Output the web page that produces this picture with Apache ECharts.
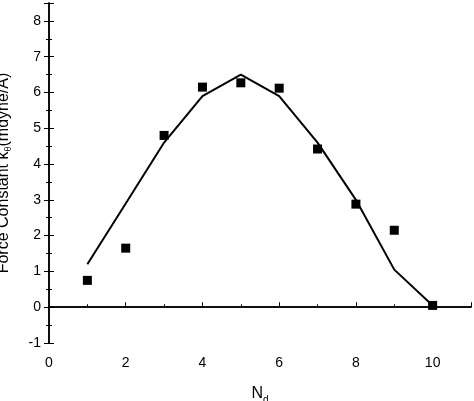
<!DOCTYPE html><html><head><script src="https://cdn.jsdelivr.net/npm/echarts@6/dist/echarts.min.js"></script></head><body style="margin:0"><div id="c" style="width:474px;height:401px"></div><script>
var nd=[1,2,3,4,5,6,7,8,9,10];
var measured=[0.75,1.65,4.8,6.15,6.27,6.12,4.42,2.88,2.15,0.05];
var fitted=[1.2,2.9,4.6,5.9,6.5,5.9,4.6,3.0,1.05,0.05];
var ch=echarts.init(document.getElementById('c'));
var ax={lineStyle:{color:'#000',width:1.5}};
var tk={inside:true,length:5,lineStyle:{color:'#000'}};
var mt={show:true,length:3,lineStyle:{color:'#000'}};
var ff='Liberation Sans';
ch.setOption({animation:false,grid:{left:49,right:3,top:3,bottom:58,containLabel:false,outerBoundsMode:'none'},
xAxis:[{type:'value',min:0,max:11,interval:2,name:'{a|N}{s|d}',nameLocation:'middle',nameGap:34,nameTextStyle:{rich:{a:{fontSize:16,fontFamily:ff,color:'#000'},s:{fontSize:10,fontFamily:ff,color:'#000',verticalAlign:'bottom',padding:[12,0,0,0]}}},
axisLine:ax,axisTick:tk,minorTick:Object.assign({splitNumber:2},mt),splitLine:{show:false},
axisLabel:{color:'#000',fontSize:14,fontFamily:ff,formatter:function(v){return v>10?'':v;}}},
{type:'value',position:'top',min:0,max:11,axisLine:ax,axisTick:{show:false},axisLabel:{show:false},splitLine:{show:false}}],
yAxis:[{type:'value',min:-1,max:8.5,interval:1,name:'{a|Force Constant k}{s|\u03B8}{a|(mdyne/A)}',nameLocation:'middle',nameGap:32,nameTextStyle:{rich:{a:{fontSize:16,fontFamily:ff,color:'#000'},s:{fontSize:9,fontFamily:ff,color:'#000',padding:[10,0,0,0]}}},
axisLine:ax,axisTick:tk,minorTick:Object.assign({splitNumber:2},mt),splitLine:{show:false},
axisLabel:{color:'#000',fontSize:14,fontFamily:ff,formatter:function(v){return v>8?'':v;}}},
{type:'value',position:'right',min:-1,max:8.5,interval:1,axisLine:Object.assign({show:true},ax),axisTick:tk,minorTick:Object.assign({splitNumber:2},mt),axisLabel:{show:false},splitLine:{show:false}}],
series:[{type:'line',data:nd.map(function(x,i){return [x,fitted[i]];}),symbol:'none',lineStyle:{color:'#000',width:2}},
{type:'scatter',data:nd.map(function(x,i){return [x,measured[i]];}),symbol:'rect',symbolSize:9,itemStyle:{color:'#000',opacity:1}}]});
</script></body></html>
